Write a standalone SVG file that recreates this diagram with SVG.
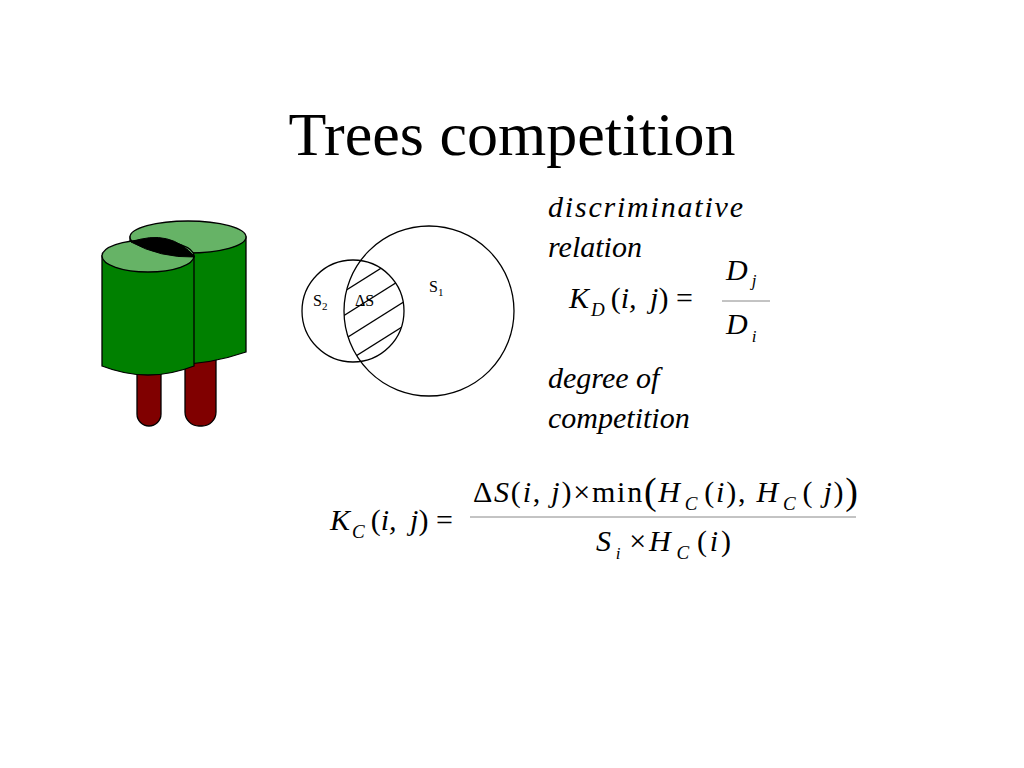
<svg xmlns="http://www.w3.org/2000/svg" width="1024" height="768" viewBox="0 0 1024 768">
<style>
.t{font-family:"Liberation Serif","Times New Roman",serif;fill:#000}
.i{font-style:italic}
.s{stroke:#000;stroke-width:1.3}
</style>
<rect width="1024" height="768" fill="#fff"/>
<text class="t" x="512" y="155" font-size="62" text-anchor="middle">Trees competition</text>
<g id="trees">
<rect class="s" x="137" y="350" width="24" height="76" rx="12" fill="#800000"/>
<rect class="s" x="185" y="340" width="31" height="86" rx="14" fill="#800000"/>
<path class="s" d="M130,237 L130,360 Q188,372 246,352 L246,237 Z" fill="#008000"/>
<ellipse class="s" cx="188" cy="237" rx="58" ry="16" fill="#66b366"/>
<path class="s" d="M102,256 L102,366 Q148,384 194,366 L194,256 Z" fill="#008000"/>
<ellipse class="s" cx="148" cy="256" rx="46" ry="16" fill="#66b366"/>
<path d="M131,242 Q170,228 195,257 Q160,258 131,242 Z" fill="#000" stroke="#000"/>
</g>
<g id="venn" fill="none">
<clipPath id="c1"><circle cx="353" cy="311" r="51"/></clipPath>
<clipPath id="c2"><circle cx="429" cy="311" r="85"/></clipPath>
<circle class="s" cx="429" cy="311" r="85"/>
<circle class="s" cx="353" cy="311" r="51"/>
<g clip-path="url(#c1)"><g clip-path="url(#c2)"><g class="s">
<line x1="340" y1="272" x2="400" y2="234"/>
<line x1="340" y1="294" x2="410" y2="250"/>
<line x1="340" y1="318" x2="410" y2="274"/>
<line x1="340" y1="342" x2="410" y2="298"/>
<line x1="340" y1="366" x2="410" y2="322"/>
<line x1="340" y1="390" x2="410" y2="346"/>
</g></g></g>
<text class="t" x="313" y="306" font-size="16">S<tspan font-size="11" dy="4">2</tspan></text>
<text class="t" x="355" y="306" font-size="16">ΔS</text>
<text class="t" x="429" y="292" font-size="16">S<tspan font-size="11" dy="4">1</tspan></text>
</g>
<g id="kd">
<text class="t i" x="548" y="217" font-size="30" textLength="195">discriminative</text>
<text class="t i" x="548" y="257" font-size="30">relation</text>
<text class="t i" x="569" y="308" font-size="30">K<tspan font-size="19" dx="2" dy="8">D</tspan><tspan font-style="normal" dx="6" dy="-8">(</tspan>i,<tspan dx="6"> j</tspan><tspan font-style="normal">) =</tspan></text>
<line x1="722" y1="301" x2="770" y2="301" stroke="#888" stroke-width="1"/>
<text class="t i" x="726" y="280" font-size="30">D<tspan font-size="17" dx="4" dy="6">j</tspan></text>
<text class="t i" x="726" y="334" font-size="30">D<tspan font-size="17" dx="4" dy="8">i</tspan></text>
<text class="t i" x="548" y="388" font-size="30">degree of</text>
<text class="t i" x="548" y="428" font-size="30">competition</text>
</g>
<g id="kc">
<text class="t i" x="330" y="530" font-size="30">K<tspan font-size="19" dx="2" dy="8">C</tspan><tspan font-style="normal" dx="6" dy="-8">(</tspan>i,<tspan dx="6"> j</tspan><tspan font-style="normal">) =</tspan></text>
<line x1="470" y1="517" x2="856" y2="517" stroke="#888" stroke-width="1"/>
<text class="t" x="473" y="502" font-size="30" textLength="385">Δ<tspan class="i">S</tspan>(<tspan class="i">i</tspan>, <tspan class="i">j</tspan>)×min<tspan font-size="38" dy="2">(</tspan><tspan class="i" dy="-2">H</tspan><tspan class="i" font-size="19" dx="3" dy="8">C</tspan><tspan dx="5" dy="-8">(</tspan><tspan class="i">i</tspan>), <tspan class="i">H</tspan><tspan class="i" font-size="19" dx="3" dy="8">C</tspan><tspan dx="5" dy="-8">(</tspan><tspan class="i"> j</tspan>)<tspan font-size="38" dy="2">)</tspan></text>
<text class="t" x="596" y="551" font-size="30" textLength="135"><tspan class="i">S</tspan><tspan class="i" font-size="17" dx="2" dy="8">i</tspan><tspan dx="6" dy="-8">×</tspan><tspan class="i">H</tspan><tspan class="i" font-size="19" dx="3" dy="8">C</tspan><tspan dx="5" dy="-8">(</tspan><tspan class="i">i</tspan>)</text>
</g>
</svg>
